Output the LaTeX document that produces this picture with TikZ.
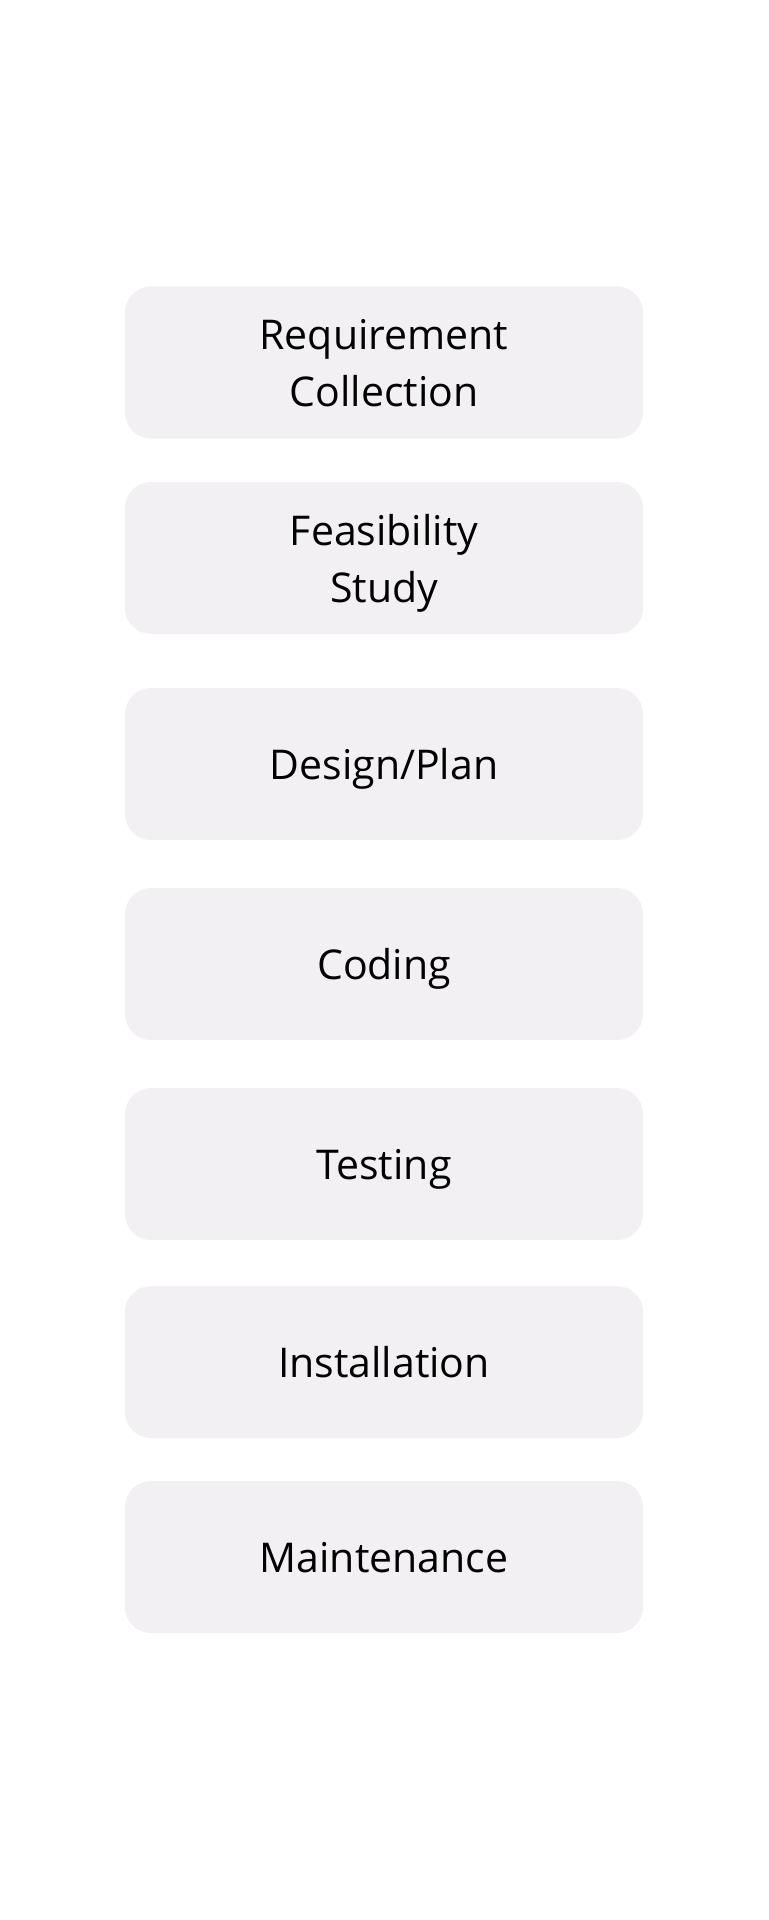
\documentclass[tikz,border=0pt]{standalone}
\usepackage{fontspec}
\setmainfont{Open Sans}
\usepackage{tikz}
\definecolor{stagefill}{RGB}{242,240,243}

\begin{document}
\begin{tikzpicture}[x=0.5pt,y=-0.5pt,
    stage/.style={rectangle,rounded corners=13pt,fill=stagefill,minimum width=259pt,minimum height=76pt,
                  align=center,font=\fontsize{20.5pt}{28.5pt}\selectfont,text=black,inner sep=0pt,text depth=0pt}]
                      \fill[white] (0,0) rectangle (768,1920);
                      \node[stage](req)at(384,362.5){Requirement\\Collection};
                      \node[stage](feas)at(384,558){Feasibility\\Study};
                      \node[stage](design)at(384,764){Design/Plan};
                      \node[stage](coding)at(384,964){Coding};
                      \node[stage](testing)at(384,1164){Testing};
                      \node[stage](install)at(384,1362){Installation};
                      \node[stage](maint)at(384,1557){Maintenance};
                  \end{tikzpicture}
\end{document}
